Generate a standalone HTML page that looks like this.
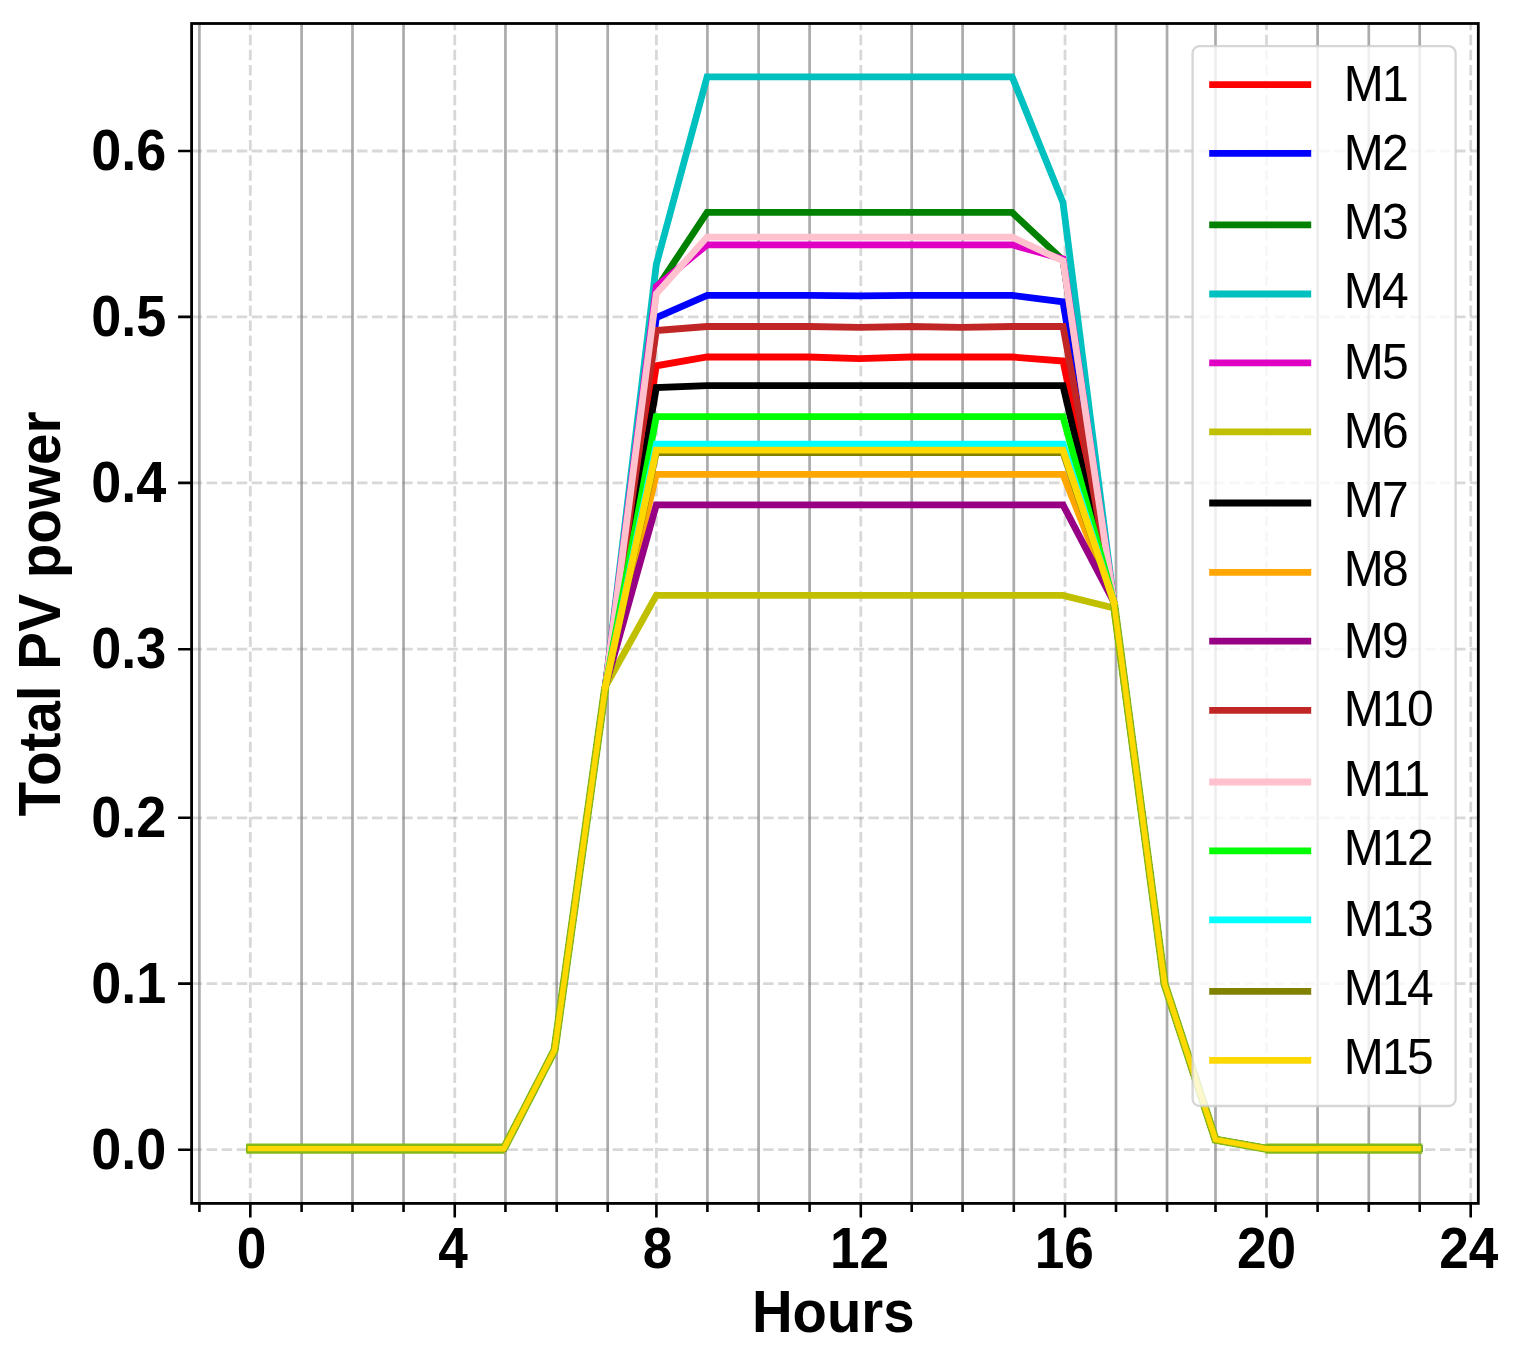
<!DOCTYPE html>
<html lang="en"><head><meta charset="utf-8"><title>Total PV power</title>
<style>html,body{margin:0;padding:0;background:#fff}body{width:1513px;height:1348px;overflow:hidden}svg{display:block}text{font-family:"Liberation Sans",sans-serif}.b{font-weight:bold;font-size:56px;fill:#000}.l{font-size:48px;fill:#000;letter-spacing:-1.7px}</style></head><body>
<svg width="1513" height="1348" viewBox="0 0 1513 1348">
<rect width="1513" height="1348" fill="#fff"/>
<defs><clipPath id="ax"><rect x="191.6" y="23.5" width="1286.7" height="1179.9"/></clipPath></defs>
<g clip-path="url(#ax)" fill="none"><path d="M199.40 1203.4V23.5M301.60 1203.4V23.5M352.50 1203.4V23.5M403.55 1203.4V23.5M505.45 1203.4V23.5M556.70 1203.4V23.5M607.70 1203.4V23.5M707.40 1203.4V23.5M758.60 1203.4V23.5M809.60 1203.4V23.5M911.70 1203.4V23.5M962.60 1203.4V23.5M1013.80 1203.4V23.5M1116.00 1203.4V23.5M1167.05 1203.4V23.5M1215.50 1203.4V23.5M1317.60 1203.4V23.5M1368.80 1203.4V23.5M1419.70 1203.4V23.5" stroke="#808080" stroke-opacity="0.66" stroke-width="2.7"/><path d="M250.30 1203.4V23.5M454.75 1203.4V23.5M656.40 1203.4V23.5M860.80 1203.4V23.5M1065.00 1203.4V23.5M1266.50 1203.4V23.5M1470.70 1203.4V23.5" stroke="#808080" stroke-opacity="0.31" stroke-width="2.8" stroke-dasharray="10.5 4.54"/><path d="M191.6 1149.70H1478.3M191.6 983.65H1478.3M191.6 817.80H1478.3M191.6 649.20H1478.3M191.6 482.90H1478.3M191.6 316.90H1478.3M191.6 151.00H1478.3" stroke="#808080" stroke-opacity="0.31" stroke-width="2.8" stroke-dasharray="10.5 4.54"/></g>
<g clip-path="url(#ax)" fill="none" stroke-linejoin="miter" stroke-miterlimit="6" stroke-linecap="square" stroke-width="6.8">
<polyline points="249.6,1148.7 300.4,1148.7 351.2,1148.7 402.1,1148.7 452.9,1148.7 503.8,1148.7 554.6,1050.0 605.4,686.5 656.3,365.8 707.1,357.0 757.9,357.0 808.8,357.0 859.6,358.6 910.5,357.0 961.3,357.0 1012.1,357.0 1063.0,361.0 1113.8,602.0 1164.6,984.0 1215.5,1139.7 1266.3,1148.7 1317.1,1148.7 1368.0,1148.7 1418.8,1148.7" stroke="#ff0000"/>
<polyline points="249.6,1148.7 300.4,1148.7 351.2,1148.7 402.1,1148.7 452.9,1148.7 503.8,1148.7 554.6,1050.0 605.4,686.5 656.3,317.7 707.1,295.3 757.9,295.3 808.8,295.3 859.6,295.9 910.5,295.3 961.3,295.3 1012.1,295.3 1063.0,301.9 1113.8,602.0 1164.6,984.0 1215.5,1139.7 1266.3,1148.7 1317.1,1148.7 1368.0,1148.7 1418.8,1148.7" stroke="#0000ff"/>
<polyline points="249.6,1148.7 300.4,1148.7 351.2,1148.7 402.1,1148.7 452.9,1148.7 503.8,1148.7 554.6,1050.0 605.4,686.5 656.3,289.0 707.1,212.4 757.9,212.4 808.8,212.4 859.6,212.4 910.5,212.4 961.3,212.4 1012.1,212.4 1063.0,260.2 1113.8,602.0 1164.6,984.0 1215.5,1139.7 1266.3,1148.7 1317.1,1148.7 1368.0,1148.7 1418.8,1148.7" stroke="#008100"/>
<polyline points="249.6,1148.7 300.4,1148.7 351.2,1148.7 402.1,1148.7 452.9,1148.7 503.8,1148.7 554.6,1050.0 605.4,686.5 656.3,264.5 707.1,76.8 757.9,76.8 808.8,76.8 859.6,76.8 910.5,76.8 961.3,76.8 1012.1,76.8 1063.0,202.5 1113.8,602.0 1164.6,984.0 1215.5,1139.7 1266.3,1148.7 1317.1,1148.7 1368.0,1148.7 1418.8,1148.7" stroke="#00c0c0"/>
<polyline points="249.6,1148.7 300.4,1148.7 351.2,1148.7 402.1,1148.7 452.9,1148.7 503.8,1148.7 554.6,1050.0 605.4,686.5 656.3,286.4 707.1,244.8 757.9,244.8 808.8,244.8 859.6,244.8 910.5,244.8 961.3,244.8 1012.1,244.8 1063.0,259.0 1113.8,602.0 1164.6,984.0 1215.5,1139.7 1266.3,1148.7 1317.1,1148.7 1368.0,1148.7 1418.8,1148.7" stroke="#e000c4"/>
<polyline points="249.6,1148.7 300.4,1148.7 351.2,1148.7 402.1,1148.7 452.9,1148.7 503.8,1148.7 554.6,1050.0 605.4,686.5 656.3,595.4 707.1,595.4 757.9,595.4 808.8,595.4 859.6,595.4 910.5,595.4 961.3,595.4 1012.1,595.4 1063.0,595.4 1113.8,608.0 1164.6,984.0 1215.5,1139.7 1266.3,1148.7 1317.1,1148.7 1368.0,1148.7 1418.8,1148.7" stroke="#c0c000"/>
<polyline points="249.6,1148.7 300.4,1148.7 351.2,1148.7 402.1,1148.7 452.9,1148.7 503.8,1148.7 554.6,1050.0 605.4,686.5 656.3,387.6 707.1,385.7 757.9,385.7 808.8,385.7 859.6,385.7 910.5,385.7 961.3,385.7 1012.1,385.7 1063.0,385.7 1113.8,602.0 1164.6,984.0 1215.5,1139.7 1266.3,1148.7 1317.1,1148.7 1368.0,1148.7 1418.8,1148.7" stroke="#000000"/>
<polyline points="249.6,1148.7 300.4,1148.7 351.2,1148.7 402.1,1148.7 452.9,1148.7 503.8,1148.7 554.6,1050.0 605.4,686.5 656.3,474.4 707.1,474.4 757.9,474.4 808.8,474.4 859.6,474.4 910.5,474.4 961.3,474.4 1012.1,474.4 1063.0,474.4 1113.8,602.0 1164.6,984.0 1215.5,1139.7 1266.3,1148.7 1317.1,1148.7 1368.0,1148.7 1418.8,1148.7" stroke="#ffa600"/>
<polyline points="249.6,1148.7 300.4,1148.7 351.2,1148.7 402.1,1148.7 452.9,1148.7 503.8,1148.7 554.6,1050.0 605.4,686.5 656.3,504.9 707.1,504.9 757.9,504.9 808.8,504.9 859.6,504.9 910.5,504.9 961.3,504.9 1012.1,504.9 1063.0,504.9 1113.8,602.0 1164.6,984.0 1215.5,1139.7 1266.3,1148.7 1317.1,1148.7 1368.0,1148.7 1418.8,1148.7" stroke="#970084"/>
<polyline points="249.6,1148.7 300.4,1148.7 351.2,1148.7 402.1,1148.7 452.9,1148.7 503.8,1148.7 554.6,1050.0 605.4,686.5 656.3,330.5 707.1,326.5 757.9,326.5 808.8,326.5 859.6,327.4 910.5,326.5 961.3,327.4 1012.1,326.5 1063.0,326.5 1113.8,602.0 1164.6,984.0 1215.5,1139.7 1266.3,1148.7 1317.1,1148.7 1368.0,1148.7 1418.8,1148.7" stroke="#c02626"/>
<polyline points="249.6,1148.7 300.4,1148.7 351.2,1148.7 402.1,1148.7 452.9,1148.7 503.8,1148.7 554.6,1050.0 605.4,686.5 656.3,293.7 707.1,237.1 757.9,237.1 808.8,237.1 859.6,237.1 910.5,237.1 961.3,237.1 1012.1,237.1 1063.0,260.8 1113.8,602.0 1164.6,984.0 1215.5,1139.7 1266.3,1148.7 1317.1,1148.7 1368.0,1148.7 1418.8,1148.7" stroke="#ffc1cd"/>
<polyline points="249.6,1148.7 300.4,1148.7 351.2,1148.7 402.1,1148.7 452.9,1148.7 503.8,1148.7 554.6,1050.0 605.4,686.5 656.3,416.7 707.1,416.7 757.9,416.7 808.8,416.7 859.6,416.7 910.5,416.7 961.3,416.7 1012.1,416.7 1063.0,416.7 1113.8,602.0 1164.6,984.0 1215.5,1139.7 1266.3,1148.7 1317.1,1148.7 1368.0,1148.7 1418.8,1148.7" stroke="#00ff00"/>
<polyline points="249.6,1148.7 300.4,1148.7 351.2,1148.7 402.1,1148.7 452.9,1148.7 503.8,1148.7 554.6,1050.0 605.4,686.5 656.3,444.1 707.1,444.1 757.9,444.1 808.8,444.1 859.6,444.1 910.5,444.1 961.3,444.1 1012.1,444.1 1063.0,444.1 1113.8,602.0 1164.6,984.0 1215.5,1139.7 1266.3,1148.7 1317.1,1148.7 1368.0,1148.7 1418.8,1148.7" stroke="#00ffff"/>
<polyline points="249.6,1148.7 300.4,1148.7 351.2,1148.7 402.1,1148.7 452.9,1148.7 503.8,1148.7 554.6,1050.0 605.4,686.5 656.3,452.5 707.1,452.5 757.9,452.5 808.8,452.5 859.6,452.5 910.5,452.5 961.3,452.5 1012.1,452.5 1063.0,452.5 1113.8,602.0 1164.6,984.0 1215.5,1139.7 1266.3,1148.7 1317.1,1148.7 1368.0,1148.7 1418.8,1148.7" stroke="#818100"/>
<polyline points="503.8,1148.7 554.6,1050.0 605.4,686.5" stroke="#84b816" stroke-width="8.1" stroke-linecap="butt"/>
<polyline points="1113.8,602.0 1164.6,984.0 1215.5,1139.7 1266.3,1148.7" stroke="#84b816" stroke-width="8.1" stroke-linecap="butt"/>
<path d="M246.2 1148.7H504.8M1265.3 1148.7H1422.2" stroke="#84b816" stroke-width="10.2" stroke-linecap="butt"/>
<polyline points="605.4,686.5 656.3,450.2 707.1,450.2 757.9,450.2 808.8,450.2 859.6,450.2 910.5,450.2 961.3,450.2 1012.1,450.2 1063.0,450.2 1113.8,602.0" stroke="#ffd800" stroke-width="6.8"/>
<polyline points="452.9,1148.7 503.8,1148.7 554.6,1050.0 605.4,686.5" stroke="#ffd800" stroke-width="5.5" stroke-linecap="butt"/>
<polyline points="1113.8,602.0 1164.6,984.0 1215.5,1139.7 1266.3,1148.7 1317.1,1148.7" stroke="#ffd800" stroke-width="5.5" stroke-linecap="butt"/>
<path d="M247.6 1148.7H503.8M1266.3 1148.7H1420.8" stroke="#ffd800" stroke-width="5.2" stroke-linecap="butt"/>
</g>
<rect x="191.6" y="23.5" width="1286.7" height="1179.9" fill="none" stroke="#000" stroke-width="2.8"/>
<path d="M199.40 1203.4v8.5M250.30 1203.4v14.0M301.60 1203.4v8.5M352.50 1203.4v8.5M403.55 1203.4v8.5M454.75 1203.4v14.0M505.45 1203.4v8.5M556.70 1203.4v8.5M607.70 1203.4v8.5M656.40 1203.4v14.0M707.40 1203.4v8.5M758.60 1203.4v8.5M809.60 1203.4v8.5M860.80 1203.4v14.0M911.70 1203.4v8.5M962.60 1203.4v8.5M1013.80 1203.4v8.5M1065.00 1203.4v14.0M1116.00 1203.4v8.5M1167.05 1203.4v8.5M1215.50 1203.4v8.5M1266.50 1203.4v14.0M1317.60 1203.4v8.5M1368.80 1203.4v8.5M1419.70 1203.4v8.5M1470.70 1203.4v14.0M191.6 1149.70h-13.5M191.6 983.65h-13.5M191.6 817.80h-13.5M191.6 649.20h-13.5M191.6 482.90h-13.5M191.6 316.90h-13.5M191.6 151.00h-13.5" stroke="#000" stroke-width="2.6" fill="none"/>
<text class="b" text-anchor="middle" transform="translate(251.6 1268.3) scale(0.950 1.030)">0</text><text class="b" text-anchor="middle" transform="translate(453.1 1268.3) scale(0.950 1.030)">4</text><text class="b" text-anchor="middle" transform="translate(657.5 1268.3) scale(0.950 1.030)">8</text><text class="b" text-anchor="middle" transform="translate(859.5 1268.3) scale(0.950 1.030)">12</text><text class="b" text-anchor="middle" transform="translate(1064.2 1268.3) scale(0.950 1.030)">16</text><text class="b" text-anchor="middle" transform="translate(1266.6 1268.3) scale(0.950 1.030)">20</text><text class="b" text-anchor="middle" transform="translate(1468.7 1268.3) scale(0.950 1.030)">24</text><text class="b" text-anchor="end" transform="translate(166.4 1168.6) scale(0.965 1.030)">0.0</text><text class="b" text-anchor="end" transform="translate(166.4 1002.5) scale(0.965 1.030)">0.1</text><text class="b" text-anchor="end" transform="translate(166.4 836.7) scale(0.965 1.030)">0.2</text><text class="b" text-anchor="end" transform="translate(166.4 668.1) scale(0.965 1.030)">0.3</text><text class="b" text-anchor="end" transform="translate(166.4 501.8) scale(0.965 1.030)">0.4</text><text class="b" text-anchor="end" transform="translate(166.4 335.8) scale(0.965 1.030)">0.5</text><text class="b" text-anchor="end" transform="translate(166.4 169.9) scale(0.965 1.030)">0.6</text>
<text class="b" text-anchor="middle" transform="translate(833.2 1332.2) scale(1.005 1.055)">Hours</text>
<text class="b" text-anchor="middle" transform="translate(60.2 614.0) rotate(-90) scale(1.012 1.060)">Total PV power</text>
<rect x="1192.6" y="46.1" width="263.0" height="1059.9" rx="7" ry="7" fill="#fff" fill-opacity="0.8" stroke="#cccccc" stroke-opacity="0.8" stroke-width="2.3"/>
<g fill="none" stroke-width="6.8"><path d="M1209.2 84.6H1311.2" stroke="#ff0000"/><path d="M1209.2 153.3H1311.2" stroke="#0000ff"/><path d="M1209.2 224.8H1311.2" stroke="#008100"/><path d="M1209.2 294.0H1311.2" stroke="#00c0c0"/><path d="M1209.2 362.8H1311.2" stroke="#e000c4"/><path d="M1209.2 431.8H1311.2" stroke="#c0c000"/><path d="M1209.2 503.0H1311.2" stroke="#000000"/><path d="M1209.2 572.4H1311.2" stroke="#ffa600"/><path d="M1209.2 641.1H1311.2" stroke="#970084"/><path d="M1209.2 710.4H1311.2" stroke="#c02626"/><path d="M1209.2 782.0H1311.2" stroke="#ffc1cd"/><path d="M1209.2 850.9H1311.2" stroke="#00ff00"/><path d="M1209.2 919.9H1311.2" stroke="#00ffff"/><path d="M1209.2 991.3H1311.2" stroke="#818100"/><path d="M1209.2 1060.3H1311.2" stroke="#ffd800"/></g><text class="l" text-anchor="start" transform="translate(1343.8 100.8) scale(1.000 1.060)">M1</text><text class="l" text-anchor="start" transform="translate(1343.8 169.7) scale(1.000 1.060)">M2</text><text class="l" text-anchor="start" transform="translate(1343.8 238.5) scale(1.000 1.060)">M3</text><text class="l" text-anchor="start" transform="translate(1343.8 307.5) scale(1.000 1.060)">M4</text><text class="l" text-anchor="start" transform="translate(1343.8 379.3) scale(1.000 1.060)">M5</text><text class="l" text-anchor="start" transform="translate(1343.8 448.2) scale(1.000 1.060)">M6</text><text class="l" text-anchor="start" transform="translate(1343.8 516.9) scale(1.000 1.060)">M7</text><text class="l" text-anchor="start" transform="translate(1343.8 586.1) scale(1.000 1.060)">M8</text><text class="l" text-anchor="start" transform="translate(1343.8 657.7) scale(1.000 1.060)">M9</text><text class="l" text-anchor="start" transform="translate(1343.8 726.4) scale(1.000 1.060)">M10</text><text class="l" text-anchor="start" transform="translate(1343.8 795.8) scale(1.000 1.060)">M11</text><text class="l" text-anchor="start" transform="translate(1343.8 864.6) scale(1.000 1.060)">M12</text><text class="l" text-anchor="start" transform="translate(1343.8 936.1) scale(1.000 1.060)">M13</text><text class="l" text-anchor="start" transform="translate(1343.8 1005.3) scale(1.000 1.060)">M14</text><text class="l" text-anchor="start" transform="translate(1343.8 1074.3) scale(1.000 1.060)">M15</text>
</svg></body></html>
